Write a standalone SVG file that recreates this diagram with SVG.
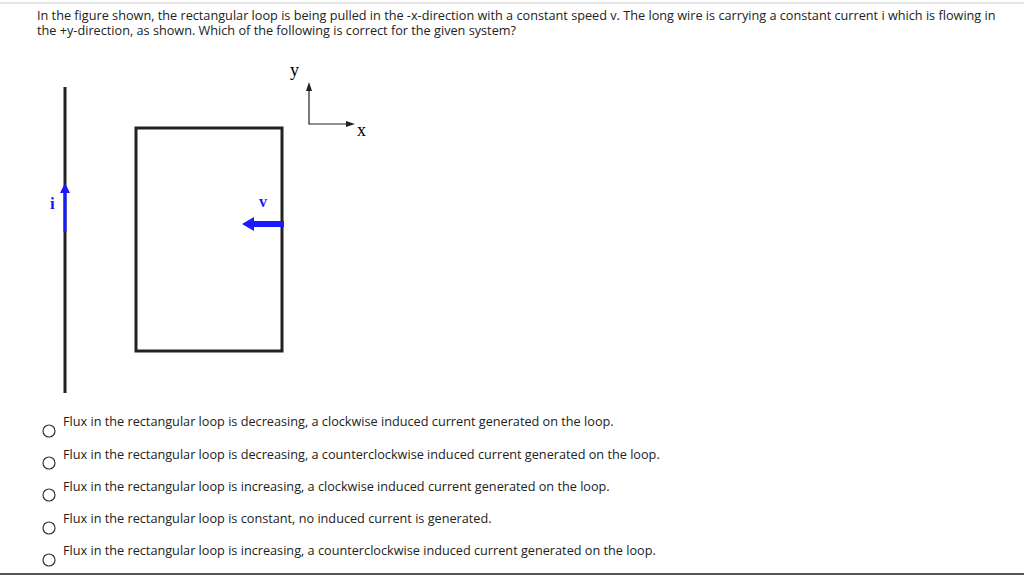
<svg xmlns="http://www.w3.org/2000/svg" width="1024" height="576" viewBox="0 0 1024 576">
<style>
.t{font-family:"Open Sans",sans-serif;font-size:12.7px;fill:#222}
.s{font-family:"Liberation Serif",serif;font-size:18px}
.c{fill:#fff;stroke:#333;stroke-width:1.2}
</style>
<defs>
<marker id="ak" markerWidth="8" markerHeight="8" refX="7" refY="4" orient="auto" markerUnits="userSpaceOnUse"><path d="M0,1 L8,4 L0,7z" fill="#222"/></marker>
</defs>
<rect width="1024" height="576" fill="#fff"/>
<line x1="0" y1="3" x2="1024" y2="3" stroke="#ccc"/>
<line x1="0" y1="574" x2="1024" y2="574" stroke="#555" stroke-width="2"/>
<text class="t" x="37" y="20">In the figure shown, the rectangular loop is being pulled in the -x-direction with a constant speed v. The long wire is carrying a constant current i which is flowing in</text>
<text class="t" x="37" y="35">the +y-direction, as shown. Which of the following is correct for the given system?</text>
<g id="wire">
<line x1="65" y1="87" x2="65" y2="393" stroke="#222" stroke-width="3"/>
<line x1="65" y1="192" x2="65" y2="232" stroke="#1a1aff" stroke-width="3"/>
<path d="M60,193 L65,183 L70,193z" fill="#1a1aff"/>
<text x="50" y="209" font-family="Liberation Serif,serif" font-weight="bold" font-size="17" fill="#1a1aff">i</text>
</g>
<g id="loop">
<rect x="136" y="128" width="146" height="223" fill="none" stroke="#222" stroke-width="3"/>
</g>
<g id="velocity">
<line x1="284" y1="224" x2="252" y2="224" stroke="#1a1aff" stroke-width="6"/>
<path d="M254,217 L242,224 L254,231z" fill="#1a1aff"/>
<text x="259" y="207" font-family="Liberation Serif,serif" font-weight="bold" font-size="16" fill="#1a1aff">v</text>
</g>
<g id="axes">
<polyline points="309,85 309,124 352,124" fill="none" stroke="#222" stroke-width="1.2"/>
<path d="M306,91 L309,82 L312,91z" fill="#222"/>
<path d="M346,121 L355,124 L346,127z" fill="#222"/>
<text class="s" x="290" y="76">y</text>
<text class="s" x="357" y="136">x</text>
</g>
<g id="options">
<circle class="c" cx="49" cy="431" r="6"/><text class="t" x="63" y="426">Flux in the rectangular loop is decreasing, a clockwise induced current generated on the loop.</text>
<circle class="c" cx="49" cy="463" r="6"/><text class="t" x="63" y="459">Flux in the rectangular loop is decreasing, a counterclockwise induced current generated on the loop.</text>
<circle class="c" cx="49" cy="495" r="6"/><text class="t" x="63" y="491">Flux in the rectangular loop is increasing, a clockwise induced current generated on the loop.</text>
<circle class="c" cx="49" cy="528" r="6"/><text class="t" x="63" y="523">Flux in the rectangular loop is constant, no induced current is generated.</text>
<circle class="c" cx="49" cy="560" r="6"/><text class="t" x="63" y="555">Flux in the rectangular loop is increasing, a counterclockwise induced current generated on the loop.</text>
</g>
</svg>
